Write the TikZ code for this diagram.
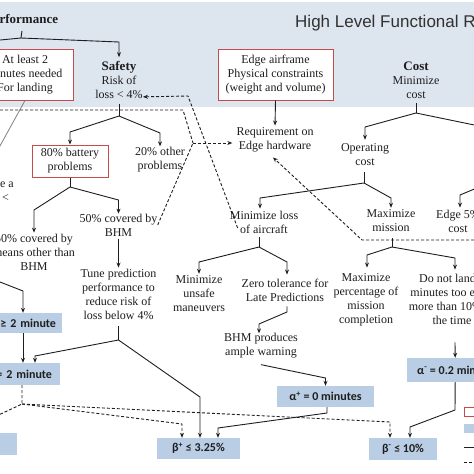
\documentclass[tikz,border=0pt]{standalone}
\usepackage{fontspec}
\setmainfont{Liberation Serif}
\newfontfamily\titlefont{Liberation Sans}
\newfontfamily\boxfont{Carlito}
\usetikzlibrary{arrows.meta}
\definecolor{band}{RGB}{221,229,239}
\definecolor{boxblue}{RGB}{185,205,228}
\definecolor{redline}{RGB}{200,75,75}
\definecolor{ink}{RGB}{30,30,30}
\definecolor{titleink}{RGB}{50,50,50}
\begin{document}
\begin{tikzpicture}[x=1pt,y=-1pt,
  txt/.style={align=center,font=\fontsize{12}{14}\selectfont,inner sep=0pt,text=ink},
  hdr/.style={font=\bfseries\fontsize{13}{14}\selectfont},
  redbox/.style={txt,draw=redline,line width=1pt,fill=white},
  bluebox/.style={fill=boxblue,font=\boxfont\bfseries\fontsize{12}{14}\selectfont,inner sep=0pt,text=ink},
  conn/.style={draw=ink,line width=0.9pt},
  arr/.style={conn,-{Stealth[length=5pt,width=4pt]}},
  dconn/.style={conn,dash pattern=on 3pt off 2pt},
  darr/.style={dconn,-{Stealth[length=5pt,width=4pt]}},
  greyline/.style={draw=gray,line width=0.8pt}
]
\useasboundingbox (0,0) rectangle (474,474);
\clip (0,0) rectangle (474,474);
\fill[white] (0,0) rectangle (474,474);
\fill[band] (0,2) rectangle (474,107);

% ---------- nodes ----------
\node[anchor=base west,font=\titlefont\fontsize{17}{20}\selectfont,text=titleink,inner sep=0pt] (title) at (295,27) {High Level Functional Requirements};
\node[txt,hdr] (perf) at (22,19) {Performance};
\node[txt] (safety) at (119,80) {{\bfseries\fontsize{13}{14}\selectfont Safety}\\Risk of\\loss < 4\%};
\node[redbox,minimum width=96pt,minimum height=51pt] (atleast) at (25,74.5) {At least 2\\minutes needed\\For landing};
\node[redbox,minimum width=115pt,minimum height=51pt] (airframe) at (275.5,74.5) {Edge airframe\\Physical constraints\\(weight and volume)};
\node[txt] (cost) at (416,80) {{\bfseries\fontsize{13}{14}\selectfont Cost}\\Minimize\\cost};
\node[txt] (req) at (275,140) {Requirement on\\Edge hardware};
\node[redbox,minimum width=76pt,minimum height=32pt] (battery) at (70,161) {80\% battery\\problems};
\node[txt] (other) at (160,160) {20\% other\\problems};
\node[txt,align=right,anchor=east] (havea) at (14,191) {Have a\\time <\hspace*{5pt}};
\node[txt] (bhm50) at (118.5,225) {50\% covered by\\BHM};
\node[txt] (other50) at (34,252) {50\% covered by\\means other than\\BHM};
\node[txt] (tune) at (118.5,294) {Tune prediction\\performance to\\reduce risk of\\loss below 4\%};
\node[txt] (oper) at (365,155) {Operating\\cost};
\node[txt] (minloss) at (264,222) {Minimize loss\\of aircraft};
\node[txt] (maxmis) at (391,221) {Maximize\\mission};
\node[txt] (edge5) at (458,221) {Edge 5\%\\cost};
\node[txt] (unsafe) at (199,294) {Minimize\\unsafe\\maneuvers};
\node[txt] (zerotol) at (285,290) {Zero tolerance for\\Late Predictions};
\node[txt] (warn) at (261,346) {BHM produces\\ample warning};
\node[txt] (maxperc) at (366,300) {Maximize\\percentage of\\mission\\completion};
\node[txt] (noland) at (452,299) {Do not land 2\\minutes too early\\more than 10\% of\\the time};

\node[bluebox,minimum width=82pt,minimum height=20pt,text width=70pt,align=right] (geq2) at (21,323) {l ≥ 2 minute};
\node[bluebox,minimum width=80pt,minimum height=22pt,text width=64pt,align=right] (eq2) at (20,374) {= 2 minute};
\node[bluebox,minimum width=77pt,minimum height=22pt] (leftbox) at (-21.5,444) {};
\node[bluebox,minimum width=83pt,minimum height=21pt] (bplus) at (198.5,448.5) {β\textsuperscript{+} ≤ 3.25\%};
\node[bluebox,minimum width=68pt,minimum height=22pt] (bminus) at (403,449) {β\textsuperscript{-} ≤ 10\%};
\node[bluebox,minimum width=97pt,minimum height=21pt] (aplus) at (325.5,396.5) {α\textsuperscript{+} = 0 minutes};
\node[bluebox,minimum width=100pt,minimum height=24pt,anchor=west] (aminus) at (407,370) {α\textsuperscript{-} = 0.2 minutes};

% legend
\node[draw=redline,line width=1pt,fill=white,minimum width=20pt,minimum height=9pt,inner sep=0pt,anchor=west] (legred) at (464,411.5) {};
\node[fill=boxblue,minimum width=20pt,minimum height=9pt,inner sep=0pt,anchor=west] (legblue) at (464,428.5) {};
\coordinate (legs1) at (464,447); \coordinate (legs2) at (482,447);
\coordinate (legd1) at (464,462); \coordinate (legd2) at (482,462);
\draw[conn] (legs1) -- (legs2);
\draw[dconn] (legd1) -- (legd2);

% ---------- solid connectors ----------
\coordinate (j1) at (21,38);
\draw[conn] ([yshift=-7pt]perf.south) -- (j1) -- (-10,41);
\draw[arr,shorten >=4pt] (j1) -- (119,42) -- (safety.north);

\coordinate (j2) at (119,116);
\draw[conn] ([yshift=-5pt]safety.south) -- (j2);
\draw[arr] (j2) -- (70,132) -- (battery.north);
\draw[arr,shorten >=1pt] (j2) -- (160,133) -- (other.north);

\coordinate (j3) at (70,187);
\draw[conn] (battery.south) -- (j3);
\draw[arr,shorten >=1pt] (j3) -- (34,210) -- (other50.north);
\draw[arr] (j3) -- (118.5,200) -- (bhm50.north);
\draw[arr,shorten >=1pt] ([yshift=-3pt]bhm50.south) -- (tune.north);

\coordinate (j4) at (118.5,340);
\draw[conn] ([yshift=-7pt]tune.south) -- (j4);
\draw[arr] (j4) -- (35,356) -- ([xshift=15pt]eq2.north);
\draw[arr] (j4) -- (200,397) -- ([xshift=1.5pt]bplus.north);

\draw[arr] (-10,279) -- (0,282) -- (23,291) -- ([xshift=2pt]geq2.north);
\draw[arr] ([xshift=2pt]geq2.south) -- ([xshift=3pt]eq2.north);

\draw[arr] ([xshift=1.5pt]aplus.south) -- (327,413) -- (218,428) -- ([xshift=19.5pt]bplus.north);
\draw[arr] ([xshift=-2pt]aminus.south) -- (455,410) -- (410,427) -- ([xshift=7pt]bminus.north);
\draw[arr] ([xshift=3pt,yshift=-18pt]noland.south) -- ([xshift=-2pt]aminus.north);
\draw[arr] ([yshift=-6pt]warn.south) -- (325.5,378) -- (aplus.north);
\draw[arr] ([xshift=2pt,yshift=-5pt]zerotol.south) -- (287,312) -- (259,324) -- ([xshift=-2pt]warn.north);

\coordinate (j6) at (259,247);
\draw[conn] ([xshift=-5pt,yshift=-4pt]minloss.south) -- (j6);
\draw[arr,shorten >=2pt] (j6) -- (199,262) -- (unsafe.north);
\draw[arr,shorten >=4pt] (j6) -- (287,262) -- ([xshift=2pt]zerotol.north);

\coordinate (j8) at (364,183);
\draw[conn] ([xshift=-1pt,yshift=-6pt]oper.south) -- (j8);
\draw[arr,shorten >=2pt] (j8) -- (260,198) -- ([xshift=-4pt]minloss.north);
\draw[arr,shorten >=2pt] (j8) -- (391,198) -- (maxmis.north);
\draw[arr,shorten >=2pt] (484,185) -- (460,195) -- ([xshift=2pt]edge5.north);

\coordinate (j7) at (392,247);
\draw[conn] ([xshift=1pt,yshift=-6pt]maxmis.south) -- (j7);
\draw[arr,shorten >=6pt] (j7) -- (367,255) -- ([xshift=1pt]maxperc.north);
\draw[arr,shorten >=4pt] (j7) -- (455,258) -- ([xshift=3pt]noland.north);

\coordinate (j9) at (416,113);
\draw[conn] ([yshift=-4pt]cost.south) -- (j9);
\draw[arr,shorten >=4pt] (j9) -- (365,127) -- (oper.north);
\draw[conn] (j9) -- (484,127);

\draw[arr,shorten >=2pt] (airframe.south) -- (req.north);
\draw[greyline] (atleast.south) -- (-5,155);

% ---------- dashed connectors ----------
\draw[darr] ([xshift=8pt,yshift=-6pt]minloss.west) -- (188,96) -- ([yshift=2pt]safety.south east);

\coordinate (j10) at (193,143);
\draw[dconn] (-10,110) -- (183,110) -- (j10);
\draw[dconn] (bhm50.east) -- (j10);
\draw[darr,shorten >=4pt] (j10) -- (req.west |- j10);

\draw[darr] (484,240) -- (362,240) -- ([xshift=-2pt,yshift=-5pt]req.south);

\coordinate (j5) at (22,404);
\draw[dconn] ([xshift=2pt]eq2.south) -- (j5) -- (-10,419);
\draw[darr] (j5) -- (182,424) -- ([xshift=-16.5pt]bplus.north);
\draw[darr] (j5) -- (390,422) -- ([xshift=-13pt]bminus.north);
\end{tikzpicture}
\end{document}
